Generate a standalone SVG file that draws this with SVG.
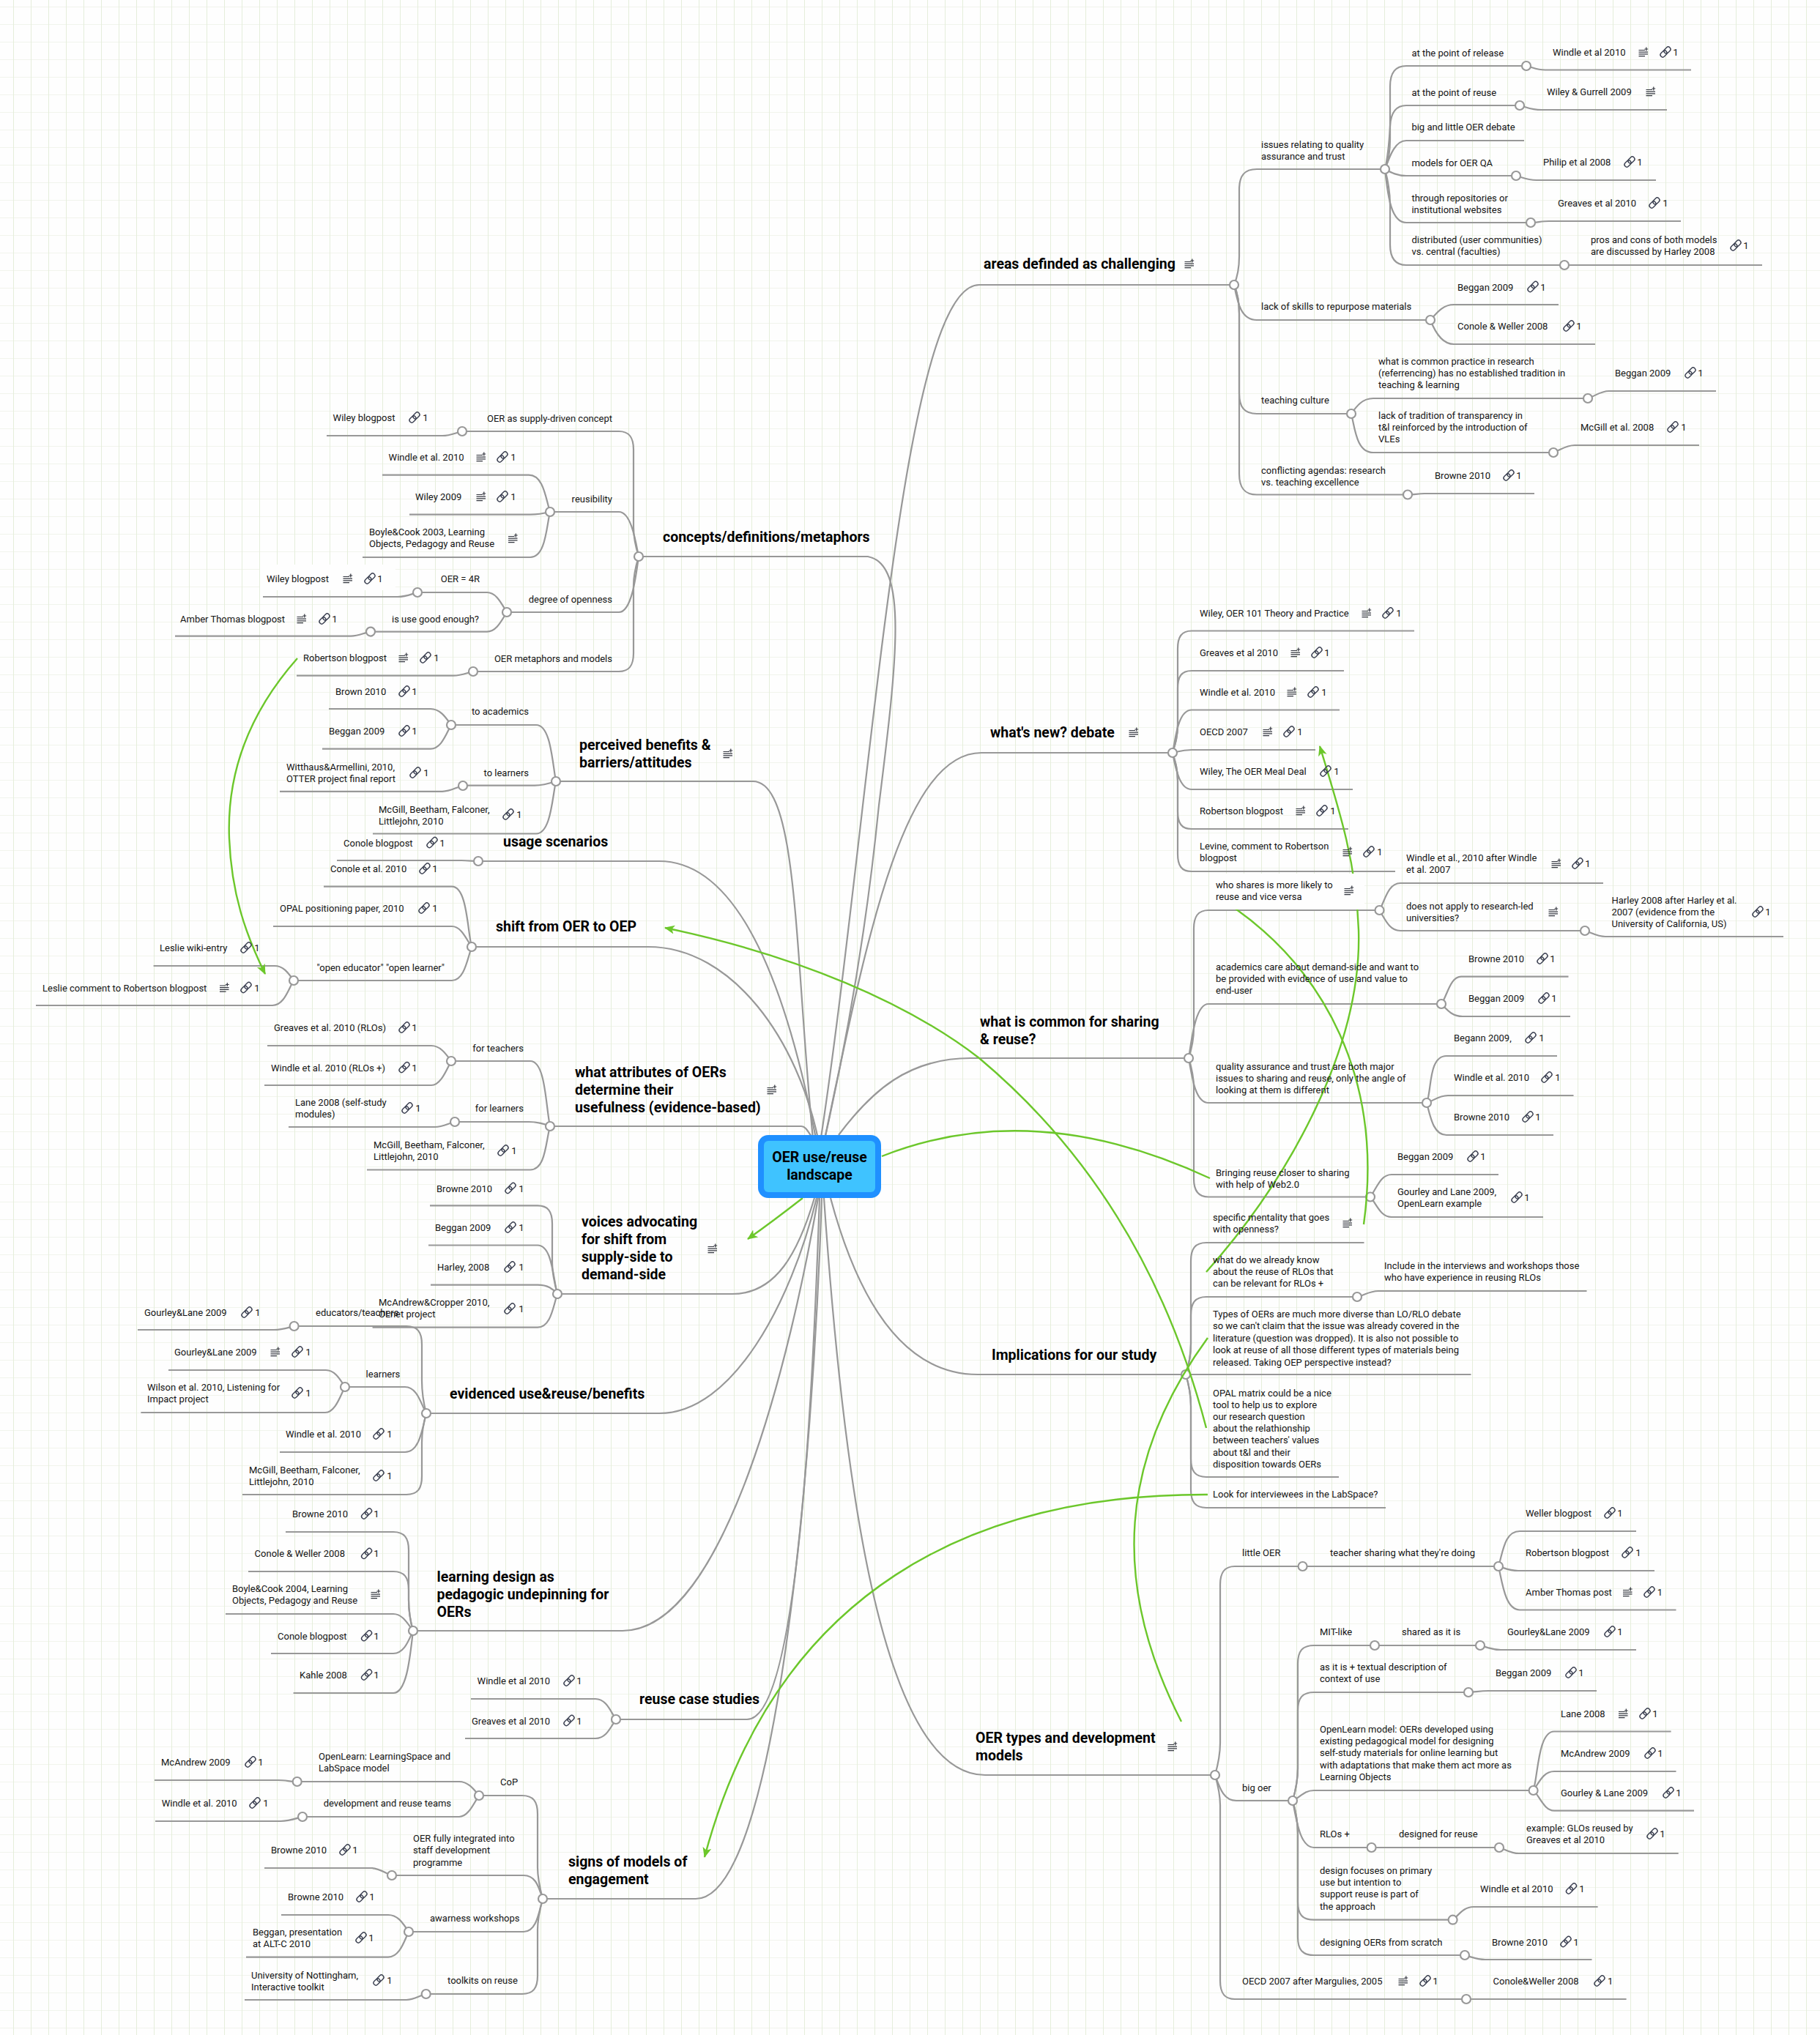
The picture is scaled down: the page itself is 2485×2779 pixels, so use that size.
<svg xmlns="http://www.w3.org/2000/svg" width="2485" height="2779" viewBox="0 0 2485 2779">
<style>
text{font-family:"Roboto","Liberation Sans",sans-serif;fill:#141414}
.t{font-size:13px}
.e{font-size:13px;text-anchor:end}
.n{font-size:13px;text-anchor:middle}
.h{font-size:19.5px;font-weight:700;fill:#000}
.r{font-size:19.5px;font-weight:700;fill:#000;text-anchor:middle}
#connectors path{fill:none;stroke:#989898;stroke-width:2.2}
#connectors circle{fill:#fff;stroke:#989898;stroke-width:2.2}
#relations path{fill:none;stroke:#6cc72b;stroke-width:2.4}
</style>
<defs>
<pattern id="grid" width="24" height="24" patternUnits="userSpaceOnUse">
<rect width="24" height="24" fill="#fefefe"/>
<rect x="0" y="9" width="24" height="1" fill="#f1f4ec"/>
<rect x="18" y="0" width="1" height="24" fill="#e5eedb"/>
</pattern>
<marker id="arrow" markerUnits="userSpaceOnUse" markerWidth="16" markerHeight="14" refX="13" refY="6" orient="auto">
<path d="M0 0L14 6L0 12L3.5 6Z" fill="#6cc72b"/>
</marker>
<g id="note" fill="none" stroke="#33363f" stroke-width="1.2"><path d="M-6.5-2.5H2M-6.5 0.2H6M-6.5 2.9H6M-6.5 5.6H2M3.8-6.4V-1.6M1.4-4H6.2"/></g>
<g id="link" fill="none" stroke="#3a3f50" stroke-width="1.4"><g transform="rotate(-45)"><rect x="-8.5" y="-3.2" width="10" height="6.4" rx="3.2"/><rect x="-1.5" y="-3.2" width="10" height="6.4" rx="3.2"/></g></g>
</defs>
<rect width="2485" height="2779" fill="url(#grid)"/>

<g id="connectors">
<path d="M1120 1560C1190 1100 1230 389 1337 389H1685"/>
<path d="M1125 1560C1180 1300 1230 1028 1340 1028H1601"/>
<path d="M1145 1550C1190 1490 1240 1445 1325 1445H1623"/>
<path d="M1134 1636C1170 1770 1230 1877 1335 1877H1619"/>
<path d="M1125 1636C1150 2000 1200 2424 1345 2424H1659"/>
<path d="M872 760H1185C1240 770 1225 900 1200 1100C1180 1300 1150 1450 1125 1560"/>
<path d="M759 1067H1028C1090 1067 1085 1300 1110 1555"/>
<path d="M653 1176H900C1010 1176 1075 1350 1115 1560"/>
<path d="M644 1293H885C1000 1293 1090 1420 1118 1560"/>
<path d="M751 1538H1094C1100 1538 1103 1545 1110 1555"/>
<path d="M761 1767H1000C1060 1767 1090 1710 1112 1636"/>
<path d="M582 1930H900C1000 1930 1080 1780 1115 1636"/>
<path d="M564 2227H850C990 2227 1080 1850 1117 1636"/>
<path d="M841 2348H1020C1090 2348 1110 1900 1119 1636"/>
<path d="M741 2593H950C1060 2593 1110 2000 1122 1636"/>

<path d="M1685 389C1690 377 1692 365 1692 350V259C1692 240 1699 231 1716 231H1891"/>
<path d="M1685 389C1690 415 1695 437 1716 437H1953"/>
<path d="M1685 389C1690 401 1692 413 1692 428V537C1692 556 1699 565 1716 565H1845"/>
<path d="M1685 389C1690 401 1692 413 1692 428V647C1692 666 1699 675.5 1716 675.5H1922"/>
<path d="M1922 675.5C1930 676 1935 674 1945 674H2095"/>
<path d="M1891 231C1896 220 1898 205 1898 190V118C1898 99 1905 90 1920 90H2084"/>
<path d="M2084 90C2093 92 2098 95.5 2110 95.5H2309"/>
<path d="M1891 231C1896 210 1897 190 1898 172C1899 155 1905 144 1920 144H2075"/>
<path d="M2075 144C2084 146 2090 150 2105 150H2276"/>
<path d="M1891 231C1898 212 1905 192 1920 192H2081"/>
<path d="M1891 231C1900 236 1908 240 1920 240H2070"/>
<path d="M2070 240C2078 242 2085 246 2098 246H2261"/>
<path d="M1891 231C1895 270 1900 304 1920 304H2090"/>
<path d="M2090 304C2098 304 2105 302 2115 302H2295"/>
<path d="M1891 231C1896 250 1898 265 1898 280V334C1898 353 1905 362 1920 362H2136"/>
<path d="M2136 362H2406"/>
<path d="M1953 437C1962 427 1970 416 1985 416H2128"/>
<path d="M1953 437C1960 455 1970 470 1985 470H2178"/>
<path d="M1845 565C1852 555 1860 544 1875 544H2168"/>
<path d="M2168 544C2178 541 2185 534 2197 534H2343"/>
<path d="M1845 565C1850 585 1852 618 1875 618H2121"/>
<path d="M2121 618C2130 615 2138 608 2150 608H2320"/>

<path d="M1601 1028C1605 1015 1608 1005 1608 990V886C1608 870 1613 861.5 1627 861.5H1931"/>
<path d="M1601 1028C1605 1015 1608 1005 1608 990V940C1608 924 1613 916 1627 916H1835"/>
<path d="M1601 1028C1605 1010 1608 969.5 1627 969.5H1829"/>
<path d="M1601 1028C1610 1026 1615 1024 1627 1024H1796"/>
<path d="M1601 1028C1606 1055 1612 1078 1627 1078H1847"/>
<path d="M1601 1028C1605 1041 1608 1051 1608 1066V1108C1608 1124 1613 1132 1627 1132H1841"/>
<path d="M1601 1028C1605 1041 1608 1051 1608 1066V1166C1608 1182 1613 1190 1627 1190H1905"/>

<path d="M1623 1445C1627 1432 1630 1420 1630 1405V1268C1630 1251 1636 1243 1650 1243H1883.5"/>
<path d="M1623 1445C1627 1420 1632 1371 1650 1371H1968"/>
<path d="M1623 1445C1628 1475 1633 1506 1650 1506H1948"/>
<path d="M1623 1445C1627 1458 1630 1470 1630 1485V1610C1630 1626 1636 1634.5 1650 1634.5H1871"/>
<path d="M1883.5 1243C1891 1230 1895 1206 1912 1206H2189"/>
<path d="M1883.5 1243C1891 1255 1897 1271 1912 1271H2164"/>
<path d="M2164 1271C2172 1273 2180 1279 2192 1279H2435"/>
<path d="M1968 1371C1976 1360 1980 1333.6 1995 1333.6H2141.5"/>
<path d="M1968 1371C1975 1378 1982 1388 1997 1388H2144"/>
<path d="M1948 1506C1955 1490 1950 1442 1975 1442H2126"/>
<path d="M1948 1506C1956 1504 1964 1496 1977 1496H2148.5"/>
<path d="M1948 1506C1953 1525 1957 1550 1975 1550H2121"/>
<path d="M1871 1634.5C1880 1622 1885 1604 1900 1604H2046"/>
<path d="M1871 1634.5C1880 1645 1885 1662 1900 1662H2107"/>

<path d="M1619 1877C1623 1865 1626 1850 1626 1835V1722C1626 1705 1632 1697 1647 1697H1862.5"/>
<path d="M1619 1877C1623 1865 1626 1850 1626 1835V1796C1626 1779 1632 1771 1647 1771H1853"/>
<path d="M1853 1771C1862 1769 1870 1763 1882 1763H2166.5"/>
<path d="M1619 1877H2008.5"/>
<path d="M1619 1877C1623 1890 1626 1905 1626 1920V1992C1626 2009 1632 2017 1647 2017H1828"/>
<path d="M1619 1877C1623 1890 1626 1905 1626 1920V2034C1626 2051 1632 2059 1647 2059H1892"/>

<path d="M1659 2424C1663 2410 1666 2395 1666 2380V2164C1666 2147 1672 2139 1686 2139H2046"/>
<path d="M1659 2424C1665 2440 1670 2459 1688 2459H1765"/>
<path d="M1659 2424C1663 2438 1666 2450 1666 2465V2705C1666 2722 1672 2730 1686 2730H2220.6"/>
<path d="M2046 2139C2052 2120 2054 2091 2075 2091H2234"/>
<path d="M2046 2139C2054 2141 2060 2145 2073 2145H2259"/>
<path d="M2046 2139C2051 2160 2055 2198.5 2075 2198.5H2288.5"/>
<path d="M1765 2459C1769 2445 1772 2430 1772 2415V2272C1772 2255 1778 2247 1794 2247H2021"/>
<path d="M2021 2247C2030 2249 2036 2253 2049 2253H2234"/>
<path d="M1765 2459C1769 2445 1772 2430 1772 2415V2336C1772 2319 1778 2311 1794 2311H2005"/>
<path d="M2005 2311C2013 2311 2020 2309 2032 2309H2180"/>
<path d="M1765 2459C1775 2455 1780 2445 1794 2445H2093.6"/>
<path d="M1765 2459C1770 2485 1775 2523 1794 2523H2047"/>
<path d="M2047 2523C2055 2525 2062 2531 2074 2531H2291.7"/>
<path d="M1765 2459C1769 2473 1772 2488 1772 2503V2597C1772 2614 1778 2621.7 1794 2621.7H1983.6"/>
<path d="M1983.6 2621.7C1992 2615 1998 2604 2012 2604H2181.6"/>
<path d="M1765 2459C1769 2473 1772 2488 1772 2503V2645C1772 2662 1778 2670 1794 2670H2000"/>
<path d="M2000 2670C2009 2672 2015 2676 2028 2676H2173.5"/>
<path d="M2093.6 2445C2100 2425 2100 2364.5 2122 2364.5H2281.6"/>
<path d="M2093.6 2445C2101 2435 2107 2419 2122 2419H2288.5"/>
<path d="M2093.6 2445C2102 2452 2108 2472.6 2122 2472.6H2313"/>

<path d="M872 760C868 747 865 735 865 720V614C865 597 859 589 845 589H631"/>
<path d="M631 589C622 591 615 595 604 595H446"/>
<path d="M872 760C868 740 862 699 845 699H751"/>
<path d="M872 760C868 790 862 836 845 836H692"/>
<path d="M872 760C868 773 865 785 865 800V892C865 909 859 917 845 917H646"/>
<path d="M646 917C637 919 630 922.7 619 922.7H405"/>
<path d="M751 699C745 680 742 648.7 722 648.7H522"/>
<path d="M751 699C743 701 736 702.6 724 702.6H559"/>
<path d="M751 699C746 720 745 761 724 761H495"/>
<path d="M692 836C685 825 678 809 665 809H570"/>
<path d="M570 809C562 811 555 815 543 815H359"/>
<path d="M692 836C685 847 678 862.6 665 862.6H506"/>
<path d="M506 862.6C497 864 490 868.7 479 868.7H239"/>

<path d="M759 1067C754 1040 752 990 732 990H616"/>
<path d="M759 1067C750 1070 742 1072.7 730 1072.7H632"/>
<path d="M632 1073C623 1075 615 1080.8 604 1080.8H382"/>
<path d="M759 1067C754 1090 752 1138.5 732 1138.5H509"/>
<path d="M616 990C610 982 602 968 588 968H449"/>
<path d="M616 990C610 1000 603 1022.7 588 1022.7H440"/>

<path d="M653 1176C645 1176 640 1175 630 1175H460"/>
<path d="M644 1293C638 1270 638 1210.7 617 1210.7H442"/>
<path d="M644 1293C637 1283 630 1265 617 1265H373"/>
<path d="M644 1293C638 1310 634 1339 617 1339H401"/>
<path d="M401 1339C395 1331 388 1319 375 1319H209.6"/>
<path d="M401 1339C394 1350 388 1373 372 1373H49"/>

<path d="M751 1538C745 1510 745 1449 724 1449H616"/>
<path d="M751 1538C743 1535 735 1532 722 1532H621"/>
<path d="M621 1532C612 1534 605 1539 594 1539H394"/>
<path d="M751 1538C745 1560 745 1597.5 724 1597.5H501"/>
<path d="M616 1449C610 1441 602 1428 589 1428H365"/>
<path d="M616 1449C610 1460 602 1482 589 1482H361"/>

<path d="M761 1767C757 1752 754 1740 754 1725V1671C754 1654 748 1646.4 734 1646.4H587"/>
<path d="M761 1767C755 1745 754 1700.5 734 1700.5H585"/>
<path d="M761 1767C755 1760 748 1754.6 734 1754.6H588"/>
<path d="M761 1767C755 1785 752 1812.7 734 1812.7H508.6"/>

<path d="M582 1930C578 1915 576 1900 576 1885V1836C576 1819 570 1811 555 1811H401.6"/>
<path d="M401.6 1811C393 1813 386 1816 374 1816H188"/>
<path d="M582 1930C575 1918 570 1894 553 1894H471"/>
<path d="M582 1930C576 1955 572 1983 553 1983H382"/>
<path d="M582 1930C578 1944 576 1955 576 1970V2016C576 2033 570 2041 555 2041H331"/>
<path d="M471 1894C465 1885 458 1871 445 1871H230"/>
<path d="M471 1894C465 1905 458 1929 444 1929H192.4"/>

<path d="M564 2227C560 2213 558 2200 558 2185V2117C558 2100 552 2092 537 2092H390"/>
<path d="M564 2227C560 2213 558 2200 558 2185V2171C558 2154 552 2146 537 2146H339"/>
<path d="M564 2227C557 2218 550 2204 537 2204H308"/>
<path d="M564 2227C558 2240 552 2258 537 2258H370"/>
<path d="M564 2227C560 2260 556 2312 537 2312H400.6"/>

<path d="M841 2348C834 2338 828 2320 813 2320H643"/>
<path d="M841 2348C834 2358 828 2374 813 2374H635"/>

<path d="M741 2593C737 2578 734 2565 734 2550V2477C734 2460 728 2452 713 2452H654"/>
<path d="M741 2593C736 2580 733 2561 715 2561H535"/>
<path d="M535 2561C526 2558 518 2551 507 2551H361"/>
<path d="M741 2593C736 2610 733 2638 715 2638H558"/>
<path d="M741 2593C737 2608 734 2620 734 2635V2698C734 2715 728 2723 713 2723H581.7"/>
<path d="M581.7 2723C573 2725 565 2731 555 2731H334"/>
<path d="M654 2452C648 2445 640 2433 627 2433H405.7"/>
<path d="M405.7 2433C397 2433 390 2431 380 2431H211"/>
<path d="M654 2452C648 2460 640 2481 627 2481H413"/>
<path d="M413 2481C405 2483 395 2487 383 2487H212"/>
<path d="M558 2638C552 2630 545 2615 530 2615H384"/>
<path d="M558 2638C552 2650 546 2672.7 530 2672.7H336"/>

<circle cx="1685" cy="389" r="6"/><circle cx="1891" cy="231" r="6"/><circle cx="2084" cy="90" r="6"/><circle cx="2075" cy="144" r="6"/><circle cx="2070" cy="240" r="6"/><circle cx="2090" cy="304" r="6"/><circle cx="2136" cy="362" r="6"/><circle cx="1953" cy="437" r="6"/><circle cx="1845" cy="565" r="6"/><circle cx="2168" cy="544" r="6"/><circle cx="2121" cy="618" r="6"/><circle cx="1922" cy="675.5" r="6"/>
<circle cx="1601" cy="1028" r="6"/><circle cx="1623" cy="1445" r="6"/><circle cx="1883.5" cy="1243" r="6"/><circle cx="2164" cy="1271" r="6"/><circle cx="1968" cy="1371" r="6"/><circle cx="1948" cy="1506" r="6"/><circle cx="1871" cy="1634.5" r="6"/>
<circle cx="1619" cy="1877" r="6"/><circle cx="1853" cy="1771" r="6"/>
<circle cx="1659" cy="2424" r="6"/><circle cx="1778.6" cy="2139" r="6"/><circle cx="2046" cy="2139" r="6"/><circle cx="1765" cy="2459" r="6"/><circle cx="1877" cy="2247" r="6"/><circle cx="2021" cy="2247" r="6"/><circle cx="2005" cy="2311" r="6"/><circle cx="2093.6" cy="2445" r="6"/><circle cx="1872.6" cy="2523" r="6"/><circle cx="2047" cy="2523" r="6"/><circle cx="1983.6" cy="2621.7" r="6"/><circle cx="2000" cy="2670" r="6"/><circle cx="2002" cy="2730" r="6"/>
<circle cx="872" cy="760" r="6"/><circle cx="631" cy="589" r="6"/><circle cx="751" cy="699" r="6"/><circle cx="692" cy="836" r="6"/><circle cx="570" cy="809" r="6"/><circle cx="506" cy="862.6" r="6"/><circle cx="646" cy="917" r="6"/>
<circle cx="759" cy="1067" r="6"/><circle cx="616" cy="990" r="6"/><circle cx="632" cy="1073" r="6"/><circle cx="653" cy="1176" r="6"/><circle cx="644" cy="1293" r="6"/><circle cx="401" cy="1339" r="6"/>
<circle cx="751" cy="1538" r="6"/><circle cx="616" cy="1449" r="6"/><circle cx="621" cy="1532" r="6"/><circle cx="761" cy="1767" r="6"/><circle cx="582" cy="1930" r="6"/><circle cx="401.6" cy="1811" r="6"/><circle cx="471" cy="1894" r="6"/>
<circle cx="564" cy="2227" r="6"/><circle cx="841" cy="2348" r="6"/><circle cx="741" cy="2593" r="6"/><circle cx="654" cy="2452" r="6"/><circle cx="405.7" cy="2433" r="6"/><circle cx="413" cy="2481" r="6"/><circle cx="535" cy="2561" r="6"/><circle cx="558" cy="2638" r="6"/><circle cx="581.7" cy="2723" r="6"/>
</g>

<g id="relations">
<path d="M406 899C330 985 310 1070 313 1145C316 1220 335 1275 362 1330" marker-end="url(#arrow)"/>
<path d="M1096 1636Q1055 1668 1021 1692" marker-end="url(#arrow)"/>
<path d="M1204 1579C1290 1545 1440 1510 1652 1609"/>
<path d="M1647 1950C1600 1770 1510 1590 1337 1445C1240 1370 1090 1305 908 1267" marker-end="url(#arrow)"/>
<path d="M1613 2351C1515 2160 1530 1990 1649 1827"/>
<path d="M1649 2041C1330 2040 1060 2170 962 2536" marker-end="url(#arrow)"/>
<path d="M1647 1737C1760 1610 1860 1430 1855 1270C1852 1180 1830 1110 1802 1019" marker-end="url(#arrow)"/>
<path d="M1687 1241C1805 1325 1890 1470 1862 1672"/>
</g>

<rect x="1651" y="1193" width="212" height="49" fill="#fefefe"/>
<rect x="355" y="771" width="185" height="35" fill="#fefefe"/>

<g id="root"><rect x="1035" y="1550" width="168" height="86" rx="14" fill="#1f90ff"/><rect x="1043" y="1558" width="152" height="70" rx="6" fill="#3fc3ff"/><text class="r" x="1119" y="1587">OER use/reuse</text><text class="r" x="1119" y="1611">landscape</text></g>

<g id="b1"><text class="h" x="1343" y="367">areas definded as challenging</text><use href="#note" x="1624" y="360"/></g>
<g id="b2"><text class="h" x="1352" y="1007">what's new? debate</text><use href="#note" x="1548" y="1000"/></g>
<g id="b3"><text class="h" x="1338" y="1402">what is common for sharing<tspan x="1338" dy="24">&amp; reuse?</tspan></text></g>
<g id="b4"><text class="h" x="1354" y="1857">Implications for our study</text></g>
<g id="b5"><text class="h" x="1332" y="2380">OER types and development<tspan x="1332" dy="24">models</tspan></text><use href="#note" x="1601" y="2385"/></g>
<g id="b6"><text class="h" x="905" y="740">concepts/definitions/metaphors</text></g>
<g id="b7"><text class="h" x="791" y="1024">perceived benefits &amp;<tspan x="791" dy="24">barriers/attitudes</tspan></text><use href="#note" x="994" y="1029"/></g>
<g id="b8"><text class="h" x="687" y="1155.5">usage scenarios</text></g>
<g id="b9"><text class="h" x="677" y="1272">shift from OER to OEP</text></g>
<g id="b10"><text class="h" x="785" y="1471">what attributes of OERs<tspan x="785" dy="24">determine their</tspan><tspan x="785" dy="24">usefulness (evidence-based)</tspan></text><use href="#note" x="1054" y="1488"/></g>
<g id="b11"><text class="h" x="794" y="1675">voices advocating<tspan x="794" dy="24">for shift from</tspan><tspan x="794" dy="24">supply-side to</tspan><tspan x="794" dy="24">demand-side</tspan></text><use href="#note" x="973" y="1705"/></g>
<g id="b12"><text class="h" x="614" y="1910">evidenced use&amp;reuse/benefits</text></g>
<g id="b13"><text class="h" x="596.5" y="2160">learning design as<tspan x="596.5" dy="24">pedagogic undepinning for</tspan><tspan x="596.5" dy="24">OERs</tspan></text></g>
<g id="b14"><text class="h" x="873" y="2327">reuse case studies</text></g>
<g id="b15"><text class="h" x="776" y="2549">signs of models of<tspan x="776" dy="24">engagement</tspan></text></g>

<g id="a1"><text class="t" x="1722" y="201.5">issues relating to quality<tspan x="1722" dy="16">assurance and trust</tspan></text></g>
<g id="a2"><text class="t" x="1927.4" y="76.5">at the point of release</text></g>
<g id="a3"><text class="t" x="2120" y="76">Windle et al 2010</text><use href="#note" x="2244" y="71"/><use href="#link" x="2274" y="71"/><text class="n" x="2288" y="76">1</text></g>
<g id="a4"><text class="t" x="1927.4" y="130.5">at the point of reuse</text></g>
<g id="a5"><text class="t" x="2112" y="130">Wiley &amp; Gurrell 2009</text><use href="#note" x="2254" y="125"/></g>
<g id="a6"><text class="t" x="1927.4" y="178">big and little OER debate</text></g>
<g id="a7"><text class="t" x="1927.4" y="226.5">models for OER QA</text></g>
<g id="a8"><text class="t" x="2107" y="226">Philip et al 2008</text><use href="#link" x="2225" y="221"/><text class="n" x="2239" y="226">1</text></g>
<g id="a9"><text class="t" x="1927.4" y="275">through repositories or<tspan x="1927.4" dy="16">institutional websites</tspan></text></g>
<g id="a10"><text class="t" x="2127" y="282">Greaves et al 2010</text><use href="#link" x="2259" y="277"/><text class="n" x="2274" y="282">1</text></g>
<g id="a11"><text class="t" x="1927.4" y="332">distributed (user communities)<tspan x="1927.4" dy="16">vs. central (faculties)</tspan></text></g>
<g id="a12"><text class="t" x="2172" y="332">pros and cons of both models<tspan x="2172" dy="16">are discussed by Harley 2008</tspan></text><use href="#link" x="2370" y="335"/><text class="n" x="2384" y="340">1</text></g>
<g id="a13"><text class="t" x="1722" y="423">lack of skills to repurpose materials</text></g>
<g id="a14"><text class="t" x="1990" y="396.5">Beggan 2009</text><use href="#link" x="2093" y="391.5"/><text class="n" x="2107" y="396.5">1</text></g>
<g id="a15"><text class="t" x="1990" y="450">Conole &amp; Weller 2008</text><use href="#link" x="2142" y="445"/><text class="n" x="2156" y="450">1</text></g>
<g id="a16"><text class="t" x="1722" y="551">teaching culture</text></g>
<g id="a17"><text class="t" x="1882" y="498">what is common practice in research<tspan x="1882" dy="16">(referrencing) has no established tradition in</tspan><tspan x="1882" dy="16">teaching &amp; learning</tspan></text></g>
<g id="a18"><text class="t" x="2205" y="514">Beggan 2009</text><use href="#link" x="2308" y="509"/><text class="n" x="2322" y="514">1</text></g>
<g id="a19"><text class="t" x="1882" y="572">lack of tradition of transparency in<tspan x="1882" dy="16">t&amp;l reinforced by the introduction of</tspan><tspan x="1882" dy="16">VLEs</tspan></text></g>
<g id="a20"><text class="t" x="2158" y="588">McGill et al. 2008</text><use href="#link" x="2284" y="583"/><text class="n" x="2299" y="588">1</text></g>
<g id="a21"><text class="t" x="1722" y="646.5">conflicting agendas: research<tspan x="1722" dy="16">vs. teaching excellence</tspan></text></g>
<g id="a22"><text class="t" x="1959" y="654">Browne 2010</text><use href="#link" x="2060" y="649"/><text class="n" x="2074" y="654">1</text></g>

<g id="c1"><text class="t" x="1638" y="842">Wiley, OER 101 Theory and Practice</text><use href="#note" x="1866" y="837"/><use href="#link" x="1895" y="837"/><text class="n" x="1910" y="842">1</text></g>
<g id="c2"><text class="t" x="1638" y="896">Greaves et al 2010</text><use href="#note" x="1769" y="891"/><use href="#link" x="1798" y="891"/><text class="n" x="1812" y="896">1</text></g>
<g id="c3"><text class="t" x="1638" y="950">Windle et al. 2010</text><use href="#note" x="1764" y="945"/><use href="#link" x="1793" y="945"/><text class="n" x="1808" y="950">1</text></g>
<g id="c4"><text class="t" x="1638" y="1004">OECD 2007</text><use href="#note" x="1731" y="999"/><use href="#link" x="1760" y="999"/><text class="n" x="1775" y="1004">1</text></g>
<g id="c5"><text class="t" x="1638" y="1058">Wiley, The OER Meal Deal</text><use href="#link" x="1810" y="1053"/><text class="n" x="1825" y="1058">1</text></g>
<g id="c6"><text class="t" x="1638" y="1112">Robertson blogpost</text><use href="#note" x="1776" y="1107"/><use href="#link" x="1805" y="1107"/><text class="n" x="1820" y="1112">1</text></g>
<g id="c7"><text class="t" x="1638" y="1160">Levine, comment to Robertson<tspan x="1638" dy="16">blogpost</tspan></text><use href="#note" x="1840" y="1163"/><use href="#link" x="1869" y="1163"/><text class="n" x="1884" y="1168">1</text></g>

<g id="d1"><text class="t" x="1660" y="1213">who shares is more likely to<tspan x="1660" dy="16">reuse and vice versa</tspan></text><use href="#note" x="1842" y="1216"/></g>
<g id="d2"><text class="t" x="1920" y="1176">Windle et al., 2010 after Windle<tspan x="1920" dy="16">et al. 2007</tspan></text><use href="#note" x="2125" y="1179"/><use href="#link" x="2154" y="1179"/><text class="n" x="2168" y="1184">1</text></g>
<g id="d3"><text class="t" x="1920" y="1242">does not apply to research-led<tspan x="1920" dy="16">universities?</tspan></text><use href="#note" x="2121" y="1245"/></g>
<g id="d4"><text class="t" x="2200.5" y="1234">Harley 2008 after Harley et al.<tspan x="2200.5" dy="16">2007 (evidence from the</tspan><tspan x="2200.5" dy="16">University of California, US)</tspan></text><use href="#link" x="2400" y="1245"/><text class="n" x="2414" y="1250">1</text></g>
<g id="d5"><text class="t" x="1660" y="1325">academics care about demand-side and want to<tspan x="1660" dy="16">be provided with evidence of use and value to</tspan><tspan x="1660" dy="16">end-user</tspan></text></g>
<g id="d6"><text class="t" x="2005" y="1314">Browne 2010</text><use href="#link" x="2106" y="1309"/><text class="n" x="2120" y="1314">1</text></g>
<g id="d7"><text class="t" x="2005" y="1368">Beggan 2009</text><use href="#link" x="2108" y="1363"/><text class="n" x="2122" y="1368">1</text></g>
<g id="d8"><text class="t" x="1660" y="1460.5">quality assurance and trust are both major<tspan x="1660" dy="16">issues to sharing and reuse, only the angle of</tspan><tspan x="1660" dy="16">looking at them is different</tspan></text></g>
<g id="d9"><text class="t" x="1985" y="1422">Begann 2009,</text><use href="#link" x="2090" y="1417"/><text class="n" x="2105" y="1422">1</text></g>
<g id="d10"><text class="t" x="1985" y="1476">Windle et al. 2010</text><use href="#link" x="2112" y="1471"/><text class="n" x="2127" y="1476">1</text></g>
<g id="d11"><text class="t" x="1985" y="1530">Browne 2010</text><use href="#link" x="2086" y="1525"/><text class="n" x="2100" y="1530">1</text></g>
<g id="d12"><text class="t" x="1660" y="1605.5">Bringing reuse closer to sharing<tspan x="1660" dy="16">with help of Web2.0</tspan></text></g>
<g id="d13"><text class="t" x="1908" y="1584">Beggan 2009</text><use href="#link" x="2011" y="1579"/><text class="n" x="2025" y="1584">1</text></g>
<g id="d14"><text class="t" x="1908" y="1632">Gourley and Lane 2009,<tspan x="1908" dy="16">OpenLearn example</tspan></text><use href="#link" x="2071" y="1635"/><text class="n" x="2085" y="1640">1</text></g>

<g id="e1"><text class="t" x="1656" y="1667">specific mentality that goes<tspan x="1656" dy="16">with openness?</tspan></text><use href="#note" x="1840" y="1670"/></g>
<g id="e2"><text class="t" x="1656" y="1725">what do we already know<tspan x="1656" dy="16">about the reuse of RLOs that</tspan><tspan x="1656" dy="16">can be relevant for RLOs +</tspan></text></g>
<g id="e3"><text class="t" x="1890" y="1733">Include in the interviews and workshops those<tspan x="1890" dy="16">who have experience in reusing RLOs</tspan></text></g>
<g id="e4"><text class="t" x="1656" y="1799">Types of OERs are much more diverse than LO/RLO debate<tspan x="1656" dy="16.4">so we can't claim that the issue was already covered in the</tspan><tspan x="1656" dy="16.4">literature (question was dropped). It is also not possible to</tspan><tspan x="1656" dy="16.4">look at reuse of all those different types of materials being</tspan><tspan x="1656" dy="16.4">released. Taking OEP perspective instead?</tspan></text></g>
<g id="e5"><text class="t" x="1656" y="1906.5">OPAL matrix could be a nice<tspan x="1656" dy="16.2">tool to help us to explore</tspan><tspan x="1656" dy="16.2">our research question</tspan><tspan x="1656" dy="16.2">about the relathionship</tspan><tspan x="1656" dy="16.2">between teachers' values</tspan><tspan x="1656" dy="16.2">about t&amp;l and their</tspan><tspan x="1656" dy="16.2">disposition towards OERs</tspan></text></g>
<g id="e6"><text class="t" x="1656" y="2045">Look for interviewees in the LabSpace?</text></g>

<g id="f1"><text class="t" x="1696" y="2125">little OER</text></g>
<g id="f2"><text class="t" x="1816" y="2125">teacher sharing what they're doing</text></g>
<g id="f3"><text class="t" x="2083" y="2071">Weller blogpost</text><use href="#link" x="2198" y="2066"/><text class="n" x="2212" y="2071">1</text></g>
<g id="f4"><text class="t" x="2083" y="2125">Robertson blogpost</text><use href="#link" x="2222" y="2120"/><text class="n" x="2237" y="2125">1</text></g>
<g id="f5"><text class="t" x="2083" y="2179">Amber Thomas post</text><use href="#note" x="2222.5" y="2174"/><use href="#link" x="2252" y="2174"/><text class="n" x="2266.5" y="2179">1</text></g>
<g id="f6"><text class="t" x="1696" y="2445.5">big oer</text></g>
<g id="f7"><text class="t" x="1802" y="2233">MIT-like</text></g>
<g id="f8"><text class="t" x="1914" y="2233">shared as it is</text></g>
<g id="f9"><text class="t" x="2058" y="2233">Gourley&amp;Lane 2009</text><use href="#link" x="2198" y="2228"/><text class="n" x="2212" y="2233">1</text></g>
<g id="f10"><text class="t" x="1802" y="2281.4">as it is + textual description of<tspan x="1802" dy="16">context of use</tspan></text></g>
<g id="f11"><text class="t" x="2042" y="2289">Beggan 2009</text><use href="#link" x="2145" y="2284"/><text class="n" x="2159" y="2289">1</text></g>
<g id="f12"><text class="t" x="1802" y="2366">OpenLearn model: OERs developed using<tspan x="1802" dy="16.2">existing pedagogical model for designing</tspan><tspan x="1802" dy="16.2">self-study materials for online learning but</tspan><tspan x="1802" dy="16.2">with adaptations that make them act more as</tspan><tspan x="1802" dy="16.2">Learning Objects</tspan></text></g>
<g id="f13"><text class="t" x="2131" y="2345">Lane 2008</text><use href="#note" x="2216.5" y="2340"/><use href="#link" x="2246" y="2340"/><text class="n" x="2260" y="2345">1</text></g>
<g id="f14"><text class="t" x="2131" y="2399">McAndrew 2009</text><use href="#link" x="2253" y="2394"/><text class="n" x="2267" y="2399">1</text></g>
<g id="f15"><text class="t" x="2131" y="2453">Gourley &amp; Lane 2009</text><use href="#link" x="2278" y="2448"/><text class="n" x="2292" y="2453">1</text></g>
<g id="f16"><text class="t" x="1802" y="2509">RLOs +</text></g>
<g id="f17"><text class="t" x="1910" y="2509">designed for reuse</text></g>
<g id="f18"><text class="t" x="2084" y="2501">example: GLOs reused by<tspan x="2084" dy="16">Greaves et al 2010</tspan></text><use href="#link" x="2256" y="2504"/><text class="n" x="2270" y="2509">1</text></g>
<g id="f19"><text class="t" x="1802" y="2559">design focuses on primary<tspan x="1802" dy="16.2">use but intention to</tspan><tspan x="1802" dy="16.2">support reuse is part of</tspan><tspan x="1802" dy="16.2">the approach</tspan></text></g>
<g id="f20"><text class="t" x="2021" y="2584">Windle et al 2010</text><use href="#link" x="2145.5" y="2579"/><text class="n" x="2160" y="2584">1</text></g>
<g id="f21"><text class="t" x="1802" y="2656.5">designing OERs from scratch</text></g>
<g id="f22"><text class="t" x="2037" y="2656.5">Browne 2010</text><use href="#link" x="2138" y="2651.5"/><text class="n" x="2152" y="2656.5">1</text></g>
<g id="f23"><text class="t" x="1696" y="2710">OECD 2007 after Margulies, 2005</text><use href="#note" x="1916" y="2705"/><use href="#link" x="1946" y="2705"/><text class="n" x="1960" y="2710">1</text></g>
<g id="f24"><text class="t" x="2038.6" y="2710">Conole&amp;Weller 2008</text><use href="#link" x="2184" y="2705"/><text class="n" x="2198.6" y="2710">1</text></g>

<g id="g1"><text class="e" x="836" y="575.6">OER as supply-driven concept</text></g>
<g id="g2"><text class="t" x="454.6" y="575">Wiley blogpost</text><use href="#link" x="566" y="570"/><text class="n" x="581" y="575">1</text></g>
<g id="g3"><text class="e" x="836" y="685.5">reusibility</text></g>
<g id="g4"><text class="t" x="530.6" y="629">Windle et al. 2010</text><use href="#note" x="657" y="624"/><use href="#link" x="686" y="624"/><text class="n" x="701" y="629">1</text></g>
<g id="g5"><text class="t" x="567" y="683">Wiley 2009</text><use href="#note" x="657" y="678"/><use href="#link" x="686" y="678"/><text class="n" x="701" y="683">1</text></g>
<g id="g6"><text class="t" x="504" y="731">Boyle&amp;Cook 2003, Learning<tspan x="504" dy="16">Objects, Pedagogy and Reuse</tspan></text><use href="#note" x="700.5" y="735"/></g>
<g id="g7"><text class="e" x="836" y="822.5">degree of openness</text></g>
<g id="g8"><text class="e" x="655" y="795">OER = 4R</text></g>
<g id="g9"><text class="t" x="364" y="795">Wiley blogpost</text><use href="#note" x="475" y="790"/><use href="#link" x="505" y="790"/><text class="n" x="519" y="795">1</text></g>
<g id="g10"><text class="e" x="654" y="849.6">is use good enough?</text></g>
<g id="g11"><text class="t" x="246" y="850">Amber Thomas blogpost</text><use href="#note" x="412" y="845"/><use href="#link" x="443" y="845"/><text class="n" x="457" y="850">1</text></g>
<g id="g12"><text class="e" x="836" y="903.6">OER metaphors and models</text></g>
<g id="g13"><text class="t" x="414" y="903">Robertson blogpost</text><use href="#note" x="551" y="898"/><use href="#link" x="581" y="898"/><text class="n" x="596" y="903">1</text></g>

<g id="h1"><text class="e" x="722" y="976.3">to academics</text></g>
<g id="h2"><text class="t" x="458" y="949">Brown 2010</text><use href="#link" x="552" y="944"/><text class="n" x="566" y="949">1</text></g>
<g id="h3"><text class="t" x="449" y="1003">Beggan 2009</text><use href="#link" x="552" y="998"/><text class="n" x="566" y="1003">1</text></g>
<g id="h4"><text class="e" x="722" y="1059.7">to learners</text></g>
<g id="h5"><text class="t" x="391" y="1051.7">Witthaus&amp;Armellini, 2010,<tspan x="391" dy="16">OTTER project final report</tspan></text><use href="#link" x="567" y="1055"/><text class="n" x="582" y="1060">1</text></g>
<g id="h6"><text class="t" x="517" y="1109.5">McGill, Beetham, Falconer,<tspan x="517" dy="16">Littlejohn, 2010</tspan></text><use href="#link" x="694" y="1112"/><text class="n" x="709" y="1117">1</text></g>
<g id="h7"><text class="t" x="469" y="1155.5">Conole blogpost</text><use href="#link" x="590" y="1150.5"/><text class="n" x="604" y="1155.5">1</text></g>

<g id="i1"><text class="t" x="451" y="1191">Conole et al. 2010</text><use href="#link" x="580" y="1186"/><text class="n" x="594" y="1191">1</text></g>
<g id="i2"><text class="t" x="382" y="1245">OPAL positioning paper, 2010</text><use href="#link" x="579" y="1240"/><text class="n" x="594" y="1245">1</text></g>
<g id="i3"><text class="e" x="607" y="1326.4">"open educator" "open learner"</text></g>
<g id="i4"><text class="t" x="218" y="1299">Leslie wiki-entry</text><use href="#link" x="336" y="1294"/><text class="n" x="351" y="1299">1</text></g>
<g id="i5"><text class="t" x="58" y="1353.5">Leslie comment to Robertson blogpost</text><use href="#note" x="306.5" y="1348.5"/><use href="#link" x="336" y="1348.5"/><text class="n" x="351" y="1353.5">1</text></g>

<g id="j1"><text class="e" x="715" y="1435.6">for teachers</text></g>
<g id="j2"><text class="t" x="374" y="1408">Greaves et al. 2010 (RLOs)</text><use href="#link" x="552" y="1403"/><text class="n" x="566" y="1408">1</text></g>
<g id="j3"><text class="t" x="370" y="1462.6">Windle et al. 2010 (RLOs +)</text><use href="#link" x="552" y="1457.6"/><text class="n" x="566" y="1462.6">1</text></g>
<g id="j4"><text class="e" x="715" y="1518">for learners</text></g>
<g id="j5"><text class="t" x="403" y="1510">Lane 2008 (self-study<tspan x="403" dy="16">modules)</tspan></text><use href="#link" x="556" y="1513"/><text class="n" x="571" y="1518">1</text></g>
<g id="j6"><text class="t" x="510" y="1568">McGill, Beetham, Falconer,<tspan x="510" dy="16">Littlejohn, 2010</tspan></text><use href="#link" x="687" y="1571"/><text class="n" x="702" y="1576">1</text></g>

<g id="k1"><text class="t" x="596" y="1627.5">Browne 2010</text><use href="#link" x="697" y="1622.5"/><text class="n" x="712" y="1627.5">1</text></g>
<g id="k2"><text class="t" x="594" y="1681">Beggan 2009</text><use href="#link" x="697" y="1676"/><text class="n" x="712" y="1681">1</text></g>
<g id="k3"><text class="t" x="597" y="1735">Harley, 2008</text><use href="#link" x="696" y="1730"/><text class="n" x="712" y="1735">1</text></g>
<g id="k4"><text class="t" x="517" y="1783">McAndrew&amp;Cropper 2010,<tspan x="517" dy="16">OLnet project</tspan></text><use href="#link" x="696" y="1787"/><text class="n" x="712" y="1792">1</text></g>

<g id="l1"><text class="t" x="431" y="1797">educators/teachers</text></g>
<g id="l2"><text class="t" x="197" y="1797">Gourley&amp;Lane 2009</text><use href="#link" x="337" y="1792"/><text class="n" x="352" y="1797">1</text></g>
<g id="l3"><text class="t" x="499.6" y="1880.5">learners</text></g>
<g id="l4"><text class="t" x="238" y="1851">Gourley&amp;Lane 2009</text><use href="#note" x="376" y="1846"/><use href="#link" x="406" y="1846"/><text class="n" x="421" y="1851">1</text></g>
<g id="l5"><text class="t" x="201" y="1899.4">Wilson et al. 2010, Listening for<tspan x="201" dy="16">Impact project</tspan></text><use href="#link" x="406" y="1902"/><text class="n" x="421" y="1907">1</text></g>
<g id="l6"><text class="t" x="390" y="1963">Windle et al. 2010</text><use href="#link" x="517" y="1958"/><text class="n" x="532" y="1963">1</text></g>
<g id="l7"><text class="t" x="340" y="2011.6">McGill, Beetham, Falconer,<tspan x="340" dy="16">Littlejohn, 2010</tspan></text><use href="#link" x="517" y="2015"/><text class="n" x="532" y="2020">1</text></g>

<g id="m1"><text class="t" x="399" y="2072">Browne 2010</text><use href="#link" x="500.6" y="2067"/><text class="n" x="514" y="2072">1</text></g>
<g id="m2"><text class="t" x="347.6" y="2126.4">Conole &amp; Weller 2008</text><use href="#link" x="500.6" y="2121.4"/><text class="n" x="514" y="2126.4">1</text></g>
<g id="m3"><text class="t" x="317" y="2174.4">Boyle&amp;Cook 2004, Learning<tspan x="317" dy="16">Objects, Pedagogy and Reuse</tspan></text><use href="#note" x="513" y="2177"/></g>
<g id="m4"><text class="t" x="379" y="2238.7">Conole blogpost</text><use href="#link" x="500.6" y="2233.7"/><text class="n" x="514" y="2238.7">1</text></g>
<g id="m5"><text class="t" x="409" y="2292">Kahle 2008</text><use href="#link" x="500.6" y="2287"/><text class="n" x="514" y="2292">1</text></g>

<g id="o1"><text class="t" x="651.6" y="2300">Windle et al 2010</text><use href="#link" x="777" y="2295"/><text class="n" x="791" y="2300">1</text></g>
<g id="o2"><text class="t" x="644" y="2354.5">Greaves et al 2010</text><use href="#link" x="777" y="2349.5"/><text class="n" x="791" y="2354.5">1</text></g>

<g id="p1"><text class="t" x="683" y="2438">CoP</text></g>
<g id="p2"><text class="t" x="435" y="2403.3">OpenLearn: LearningSpace and<tspan x="435" dy="16">LabSpace model</tspan></text></g>
<g id="p3"><text class="t" x="220" y="2411">McAndrew 2009</text><use href="#link" x="342" y="2406"/><text class="n" x="356" y="2411">1</text></g>
<g id="p4"><text class="t" x="441.7" y="2467.3">development and reuse teams</text></g>
<g id="p5"><text class="t" x="220.7" y="2467">Windle et al. 2010</text><use href="#link" x="348" y="2462"/><text class="n" x="363" y="2467">1</text></g>
<g id="p6"><text class="t" x="564" y="2515">OER fully integrated into<tspan x="564" dy="16.3">staff development</tspan><tspan x="564" dy="16.3">programme</tspan></text></g>
<g id="p7"><text class="t" x="370" y="2531">Browne 2010</text><use href="#link" x="471" y="2526"/><text class="n" x="485" y="2531">1</text></g>
<g id="p8"><text class="t" x="587" y="2624">awarness workshops</text></g>
<g id="p9"><text class="t" x="393" y="2595">Browne 2010</text><use href="#link" x="494" y="2590"/><text class="n" x="508" y="2595">1</text></g>
<g id="p10"><text class="t" x="345" y="2643">Beggan, presentation<tspan x="345" dy="16">at ALT-C 2010</tspan></text><use href="#link" x="493" y="2646"/><text class="n" x="507" y="2651">1</text></g>
<g id="p11"><text class="t" x="611" y="2709">toolkits on reuse</text></g>
<g id="p12"><text class="t" x="343" y="2701.7">University of Nottingham,<tspan x="343" dy="16">Interactive toolkit</tspan></text><use href="#link" x="517" y="2704"/><text class="n" x="532" y="2709">1</text></g>
</svg>
